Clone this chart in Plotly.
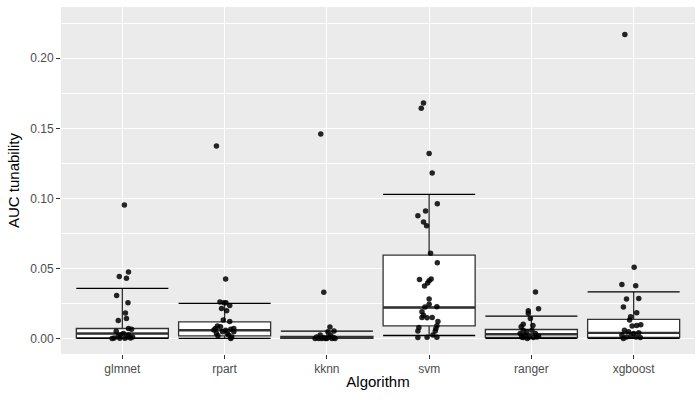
import plotly.graph_objects as go

algorithms = ["glmnet", "rpart", "kknn", "svm", "ranger", "xgboost"]

# box statistics
q1 = [0.0004, 0.0019, 0.0000, 0.0090, 0.0007, 0.0007]
median = [0.0035, 0.0059, 0.0004, 0.0221, 0.0030, 0.0040]
q3 = [0.0071, 0.0119, 0.0014, 0.0595, 0.0064, 0.0136]
lower = [0.0000, 0.0000, 0.0000, 0.0021, 0.0000, 0.0000]
upper = [0.0357, 0.0250, 0.0052, 0.1029, 0.0159, 0.0333]

# jittered points: horizontal offset from the category, value
glmnet_dx = [0.02, -0.03, 0.06, 0.04, -0.056, 0.055, 0.03, 0.04, -0.04, -0.06, 0.06, 0.09,
             0.01, -0.02, -0.08, 0.05, 0.08, -0.1, -0.025, 0.025, 0.06, -0.04, 0.1]
glmnet_y = [0.0952, 0.0443, 0.0474, 0.0429, 0.0307, 0.0254, 0.0181, 0.0143, 0.0129, 0.0052, 0.0071, 0.0066,
            0.0036, 0.0024, 0.0004, 0.0011, 0.0004, 0.0, 0.0002, 0.0002, 0.0024, 0.0016, 0.0011]

rpart_dx = [-0.08, 0.01, -0.046, -0.007, 0.013, 0.05, -0.03, 0.02, -0.013, 0.05, -0.07, -0.09, -0.04,
            0.01, 0.06, 0.09, -0.08, -0.02, 0.04, 0.07, -0.065, 0.025, 0.06, -0.105, 0.09]
rpart_y = [0.1374, 0.0424, 0.0261, 0.0254, 0.0254, 0.0236, 0.0214, 0.0197, 0.0131, 0.0121, 0.0088, 0.0071, 0.0083,
           0.0059, 0.0066, 0.0047, 0.0036, 0.0047, 0.0024, 0.0011, 0.0019, 0.0036, 0.0, 0.0060, 0.0071]

kknn_dx = [-0.06, -0.03, 0.03, 0.07, 0.01, -0.1, -0.065, -0.03, 0.02, 0.05, 0.08, -0.08, -0.015,
           0.035, -0.115, -0.05, 0.0, 0.065]
kknn_y = [0.1459, 0.0329, 0.0081, 0.0054, 0.0047, 0.0011, 0.0024, 0.0007, 0.0011, 0.0, 0.0, 0.0, 0.0,
          0.0024, 0.0, 0.0, 0.0, 0.0007]

svm_dx = [-0.055, -0.077, 0.0, 0.03, 0.08, -0.035, -0.11, -0.055, -0.025, 0.014, 0.08, -0.094, 0.02,
          0.0, -0.015, -0.045, 0.0, -0.04, 0.0, 0.076, -0.07, -0.055, -0.07, -0.02, 0.03, 0.086,
          0.076, -0.1, 0.066, -0.11, 0.06, -0.11, -0.02, 0.037, 0.076]
svm_y = [0.1681, 0.1643, 0.1321, 0.1181, 0.0962, 0.0909, 0.0876, 0.0831, 0.0805, 0.0609, 0.0540, 0.0421, 0.0424,
         0.0412, 0.0395, 0.0374, 0.0281, 0.0224, 0.0245, 0.0226, 0.0190, 0.0166, 0.0150, 0.0147, 0.0150, 0.0121,
         0.0090, 0.0079, 0.0071, 0.0054, 0.0054, 0.0007, 0.0009, 0.0024, 0.0009]

ranger_dx = [0.04, 0.07, -0.03, -0.03, -0.01, -0.08, 0.015, -0.1, -0.08, -0.045, 0.005, 0.04, -0.11,
             -0.06, -0.02, 0.07, -0.08, 0.02, 0.055, -0.04, -0.095]
ranger_y = [0.0331, 0.0212, 0.0197, 0.0179, 0.0143, 0.0102, 0.0093, 0.0083, 0.0059, 0.0047, 0.0059, 0.0036, 0.0036,
            0.0024, 0.0011, 0.0016, 0.0007, 0.0007, 0.0011, 0.0, 0.0011]

xgboost_dx = [-0.086, 0.005, -0.115, 0.02, -0.07, 0.05, -0.1, 0.03, -0.03, -0.04, -0.015, 0.03, 0.07,
              -0.09, -0.05, 0.0, 0.05, -0.115, -0.07, -0.025, 0.025, 0.065, -0.1]
xgboost_y = [0.2169, 0.0509, 0.0386, 0.0376, 0.0281, 0.0286, 0.0224, 0.0183, 0.0155, 0.0131, 0.0088, 0.0093, 0.0097,
             0.0059, 0.0047, 0.0036, 0.0040, 0.0024, 0.0011, 0.0016, 0.0011, 0.0007, 0.0]

points_dx = [glmnet_dx, rpart_dx, kknn_dx, svm_dx, ranger_dx, xgboost_dx]
points_y = [glmnet_y, rpart_y, kknn_y, svm_y, ranger_y, xgboost_y]

pos = list(range(1, len(algorithms) + 1))
half = 0.45
font = "Liberation Sans, Arial, sans-serif"

fig = go.Figure()

# errorbar caps (ggplot stat_boxplot errorbar)
cx, cy = [], []
for i, p in enumerate(pos):
    for v in (upper[i], lower[i]):
        cx += [p - half, p + half, None]
        cy += [v, v, None]
fig.add_trace(go.Scatter(x=cx, y=cy, mode="lines", line=dict(color="black", width=1.3),
                         hoverinfo="skip", showlegend=False))

fig.add_trace(go.Box(x=pos, q1=q1, median=median, q3=q3, lowerfence=lower, upperfence=upper,
                     width=2 * half, whiskerwidth=0, fillcolor="white",
                     line=dict(color="#333333", width=1.3), boxpoints=False,
                     hoverinfo="skip", showlegend=False))

# thicker median lines
mx, my = [], []
for i, p in enumerate(pos):
    mx += [p - half, p + half, None]
    my += [median[i], median[i], None]
fig.add_trace(go.Scatter(x=mx, y=my, mode="lines", line=dict(color="#333333", width=2.4),
                         hoverinfo="skip", showlegend=False))

jx, jy = [], []
for i, p in enumerate(pos):
    jx += [p + d for d in points_dx[i]]
    jy += points_y[i]
fig.add_trace(go.Scatter(x=jx, y=jy, mode="markers",
                         marker=dict(color="black", size=5.5, opacity=0.85, line=dict(width=0)),
                         hoverinfo="skip", showlegend=False))

fig.update_layout(
    width=700, height=400,
    margin=dict(l=61, r=5, t=7, b=46),
    paper_bgcolor="white", plot_bgcolor="#EBEBEB",
    font=dict(family=font, color="#4D4D4D", size=12),
    showlegend=False,
)
fig.update_xaxes(
    range=[0.4, 6.6], tickvals=pos, ticktext=algorithms, automargin=False,
    showgrid=True, gridcolor="white", gridwidth=1.1, zeroline=False,
    ticks="outside", ticklen=4, tickcolor="#333333", tickwidth=1,
    tickfont=dict(size=12, color="#4D4D4D"),
    title=dict(text="Algorithm", font=dict(size=15, color="black"), standoff=1),
)
fig.update_yaxes(
    range=[-0.0111, 0.2366], tickvals=[0, 0.05, 0.10, 0.15, 0.20], tickformat=".2f",
    automargin=False,
    showgrid=True, gridcolor="white", gridwidth=1.1, zeroline=False,
    minor=dict(tickvals=[0.025, 0.075, 0.125, 0.175, 0.225], showgrid=True,
               gridcolor="white", gridwidth=0.5, ticks=""),
    ticks="outside", ticklen=4, tickcolor="#333333", tickwidth=1,
    tickfont=dict(size=12, color="#4D4D4D"),
    title=dict(text="AUC tunability", font=dict(size=15, color="black"), standoff=6),
)

fig.write_html("out.html", config={"displayModeBar": False},
               post_script="document.body.style.margin='0';")
